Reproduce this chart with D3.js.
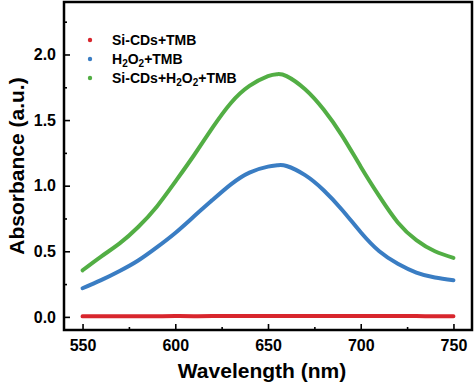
<!DOCTYPE html>
<html>
<head>
<meta charset="utf-8">
<script src="https://cdn.jsdelivr.net/npm/d3@7"></script>
<style>
  body { margin: 0; background: #fff; }
  svg text { font-family: "Liberation Sans", Arial, sans-serif; font-weight: bold; }
</style>
</head>
<body>
<div id="chart"></div>
<script>
// wavelength (nm) and absorbance
const wavelengths = [550, 560, 570, 580, 590, 600, 610, 620, 630, 640, 650, 655,
  660, 670, 680, 690, 700, 710, 720, 730, 740, 750];
const siCdsTmb = [0.004, 0.005, 0.004, 0.005, 0.005, 0.006, 0.005, 0.006, 0.006, 0.006, 0.007, 0.007,
  0.007, 0.007, 0.007, 0.007, 0.006, 0.006, 0.006, 0.006, 0.005, 0.005];
const h2o2Tmb = [0.218, 0.28, 0.35, 0.43, 0.53, 0.64, 0.765, 0.89, 1.01, 1.10, 1.145, 1.155,
  1.15, 1.08, 0.965, 0.815, 0.645, 0.50, 0.405, 0.338, 0.30, 0.28];
const siCdsH2o2Tmb = [0.355, 0.46, 0.56, 0.685, 0.84, 1.03, 1.23, 1.44, 1.63, 1.76, 1.835, 1.85,
  1.835, 1.735, 1.58, 1.38, 1.145, 0.92, 0.72, 0.585, 0.50, 0.45];

const xMajor = [550, 600, 650, 700, 750];
const xMinor = [575, 625, 675, 725];
const yMajor = [0, 0.5, 1.0, 1.5, 2.0];
const yMinor = [0.25, 0.75, 1.25, 1.75, 2.25];

// legend labels as [text, isSubscript] pieces
const series = [
  { label: [["Si-CDs+TMB", false]], values: siCdsTmb, color: "#d8262d" },
  { label: [["H", false], ["2", true], ["O", false], ["2", true], ["+TMB", false]], values: h2o2Tmb, color: "#3a7dc3" },
  { label: [["Si-CDs+H", false], ["2", true], ["O", false], ["2", true], ["+TMB", false]], values: siCdsH2o2Tmb, color: "#52ae44" },
];

const width = 474;
const height = 387;
const margin = { top: 2, right: 2, bottom: 57, left: 64 };

const svg = d3
  .select("#chart")
  .append("svg")
  .attr("width", width)
  .attr("height", height);

const x = d3
  .scaleLinear()
  .domain([540, 760])
  .range([margin.left, width - margin.right]);

const y = d3
  .scaleLinear()
  .domain([-0.1, 2.4])
  .range([height - margin.bottom, margin.top]);

const line = d3
  .line()
  .x((d, i) => x(wavelengths[i]))
  .y((d) => y(d))
  .curve(d3.curveNatural);

svg
  .selectAll(".spectrum")
  .data(series)
  .join("path")
  .attr("class", "spectrum")
  .attr("d", (s) => line(s.values))
  .attr("fill", "none")
  .attr("stroke", (s) => s.color)
  .attr("stroke-width", 4)
  .attr("stroke-linecap", "round");

// axes, ticks point inward
svg
  .append("g")
  .attr("transform", `translate(0,${height - margin.bottom})`)
  .call(d3.axisBottom(x).tickValues(xMajor).tickSize(-6).tickPadding(10).tickFormat(d3.format("d")));
svg
  .append("g")
  .attr("transform", `translate(0,${height - margin.bottom})`)
  .call(d3.axisBottom(x).tickValues(xMinor).tickSize(-3).tickFormat(""));

svg
  .append("g")
  .attr("transform", `translate(${margin.left},0)`)
  .call(d3.axisLeft(y).tickValues(yMajor).tickSize(-6).tickPadding(8).tickFormat(d3.format(".1f")));
svg
  .append("g")
  .attr("transform", `translate(${margin.left},0)`)
  .call(d3.axisLeft(y).tickValues(yMinor).tickSize(-3).tickFormat(""));

svg.selectAll(".domain").remove();
svg.selectAll(".tick line").attr("stroke", "#000").attr("stroke-width", 1.6);
svg.selectAll(".tick text").attr("fill", "#000").style("font-size", "16px");

// frame
svg
  .append("rect")
  .attr("x", margin.left)
  .attr("y", margin.top)
  .attr("width", width - margin.left - margin.right)
  .attr("height", height - margin.top - margin.bottom)
  .attr("fill", "none")
  .attr("stroke", "#000")
  .attr("stroke-width", 2.5);

// axis titles
svg
  .append("text")
  .attr("x", 262)
  .attr("y", 378)
  .attr("text-anchor", "middle")
  .style("font-size", "21px")
  .text("Wavelength (nm)");

svg
  .append("text")
  .attr("transform", `translate(24,${(margin.top + height - margin.bottom) / 2}) rotate(-90)`)
  .attr("text-anchor", "middle")
  .style("font-size", "21px")
  .text("Absorbance (a.u.)");

// legend
const legend = svg
  .selectAll(".legend")
  .data(series)
  .join("g")
  .attr("class", "legend")
  .attr("transform", (d, i) => `translate(90,${40 + i * 19})`);

legend
  .append("circle")
  .attr("r", 2.2)
  .attr("fill", (d) => d.color);

legend.each(function (d) {
  const t = d3
    .select(this)
    .append("text")
    .attr("x", 22)
    .attr("y", 5)
    .style("font-size", "14px");
  let shift = 0;
  d.label.forEach(([str, sub]) => {
    const target = sub ? 3 : 0;
    t.append("tspan")
      .attr("dy", target - shift)
      .style("font-size", sub ? "10px" : "14px")
      .text(str);
    shift = target;
  });
});
</script>
</body>
</html>
